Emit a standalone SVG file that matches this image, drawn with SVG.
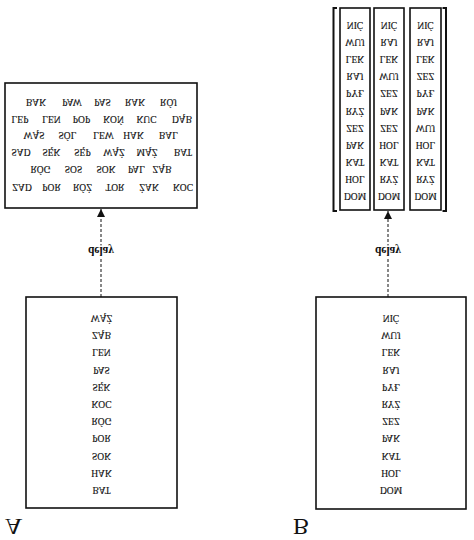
<svg xmlns="http://www.w3.org/2000/svg" width="474" height="540" viewBox="0 0 474 540">
<style>
.box{fill:#fff;stroke:#111;stroke-width:1.6}
.col{fill:none;stroke:#111;stroke-width:1.6}
.br{fill:none;stroke:#111;stroke-width:2}
.w{font-family:"Liberation Serif",serif;font-size:9.5px;fill:#111;stroke:#111;stroke-width:0.15;text-anchor:middle;dominant-baseline:central}
.lab{font-family:"Liberation Serif",serif;font-size:11.5px;font-weight:bold;fill:#111;text-anchor:middle;dominant-baseline:central;stroke:#fff;stroke-width:3;paint-order:stroke}
.big{font-family:"Liberation Serif",serif;font-size:24px;fill:#111}
.con{stroke:#111;stroke-width:1;stroke-dasharray:3,2;fill:none}
</style>
<defs>
<marker id="ah" viewBox="0 0 10 10" refX="10" refY="5" markerWidth="8" markerHeight="8" markerUnits="userSpaceOnUse" orient="auto">
<path d="M0,0 L10,5 L0,10 z" fill="#111"/>
</marker>
</defs>
<g transform="matrix(1 0 0 -1 0 540)">
<g id="connectors">
<line class="con" x1="101" y1="243" x2="101" y2="331" marker-end="url(#ah)"/>
<text class="lab" x="101" y="289">delay</text>
<line class="con" x1="388" y1="243" x2="388" y2="329" marker-end="url(#ah)"/>
<text class="lab" x="388" y="289">delay</text>
</g>
<g id="studyA">
<rect class="box" x="26" y="32" width="151" height="211"/>
<text class="w" x="101.5" y="50">BAT</text>
<text class="w" x="101.5" y="67.2">HAK</text>
<text class="w" x="101.5" y="84.4">SOK</text>
<text class="w" x="101.5" y="101.6">POR</text>
<text class="w" x="101.5" y="118.8">RÓG</text>
<text class="w" x="101.5" y="136">KOC</text>
<text class="w" x="101.5" y="153.2">SĘK</text>
<text class="w" x="101.5" y="170.4">PAS</text>
<text class="w" x="101.5" y="187.6">LEN</text>
<text class="w" x="101.5" y="204.8">ZĄB</text>
<text class="w" x="101.5" y="222">WĄŻ</text>
</g>
<g id="testA">
<rect class="box" x="5" y="332" width="192" height="125"/>
<text class="w" x="22" y="353">ZAD</text>
<text class="w" x="51.5" y="353">POR</text>
<text class="w" x="82.5" y="353">RÓŻ</text>
<text class="w" x="115" y="353">TOR</text>
<text class="w" x="149" y="353">ŻAK</text>
<text class="w" x="183" y="353">KOC</text>
<text class="w" x="40.5" y="371">RÓG</text>
<text class="w" x="73.5" y="371">SOS</text>
<text class="w" x="106" y="371">SOK</text>
<text class="w" x="136.5" y="371">PAL</text>
<text class="w" x="162" y="371">ZĄB</text>
<text class="w" x="21" y="388">SAD</text>
<text class="w" x="51.5" y="388">SĘK</text>
<text class="w" x="82.5" y="388">SĘP</text>
<text class="w" x="114" y="388">WĄŻ</text>
<text class="w" x="147" y="388">MĄŻ</text>
<text class="w" x="183" y="388">BAT</text>
<text class="w" x="34" y="405">WĄS</text>
<text class="w" x="67.5" y="405">SÓL</text>
<text class="w" x="103.5" y="405">LEW</text>
<text class="w" x="133.5" y="405">HAK</text>
<text class="w" x="168.5" y="405">BAL</text>
<text class="w" x="20" y="421">LEP</text>
<text class="w" x="51.5" y="421">LEN</text>
<text class="w" x="81.5" y="421">POP</text>
<text class="w" x="113.5" y="421">KOŃ</text>
<text class="w" x="146.5" y="421">KUC</text>
<text class="w" x="182" y="421">DĄB</text>
<text class="w" x="36" y="438">BAK</text>
<text class="w" x="72" y="438">PAW</text>
<text class="w" x="102.5" y="438">PAS</text>
<text class="w" x="135" y="438">RAK</text>
<text class="w" x="168.5" y="438">RÓJ</text>
</g>
<g id="studyB">
<rect class="box" x="316" y="31" width="150" height="212"/>
<text class="w" x="391" y="50">DOM</text>
<text class="w" x="391" y="67.2">HOL</text>
<text class="w" x="391" y="84.4">KAT</text>
<text class="w" x="391" y="101.6">PAK</text>
<text class="w" x="391" y="118.8">ZEZ</text>
<text class="w" x="391" y="136">RYŻ</text>
<text class="w" x="391" y="153.2">PYŁ</text>
<text class="w" x="391" y="170.4">RAJ</text>
<text class="w" x="391" y="187.6">LEK</text>
<text class="w" x="391" y="204.8">WUJ</text>
<text class="w" x="391" y="222">NIĆ</text>
</g>
<g id="testB">
<path class="br" d="M337,329 H333.5 V532 H337"/>
<path class="br" d="M442.5,329 H446 V532 H442.5"/>
<rect class="col" x="340" y="330" width="30" height="202"/>
<rect class="col" x="374" y="330" width="30" height="202"/>
<rect class="col" x="410" y="330" width="31" height="202"/>
<text class="w" x="355" y="344">DOM</text>
<text class="w" x="355" y="361.1">HOL</text>
<text class="w" x="355" y="378.2">KAT</text>
<text class="w" x="355" y="395.3">PAK</text>
<text class="w" x="355" y="412.4">ZEZ</text>
<text class="w" x="355" y="429.5">RYŻ</text>
<text class="w" x="355" y="446.6">PYŁ</text>
<text class="w" x="355" y="463.7">RAJ</text>
<text class="w" x="355" y="480.8">LEK</text>
<text class="w" x="355" y="497.9">WUJ</text>
<text class="w" x="355" y="515">NIĆ</text>
<text class="w" x="389" y="344">DOM</text>
<text class="w" x="389" y="361.1">RYŻ</text>
<text class="w" x="389" y="378.2">KAT</text>
<text class="w" x="389" y="395.3">HOL</text>
<text class="w" x="389" y="412.4">ZEZ</text>
<text class="w" x="389" y="429.5">PAK</text>
<text class="w" x="389" y="446.6">ZEZ</text>
<text class="w" x="389" y="463.7">WUJ</text>
<text class="w" x="389" y="480.8">LEK</text>
<text class="w" x="389" y="497.9">RAJ</text>
<text class="w" x="389" y="515">NIĆ</text>
<text class="w" x="425.5" y="344">DOM</text>
<text class="w" x="425.5" y="361.1">RYŻ</text>
<text class="w" x="425.5" y="378.2">KAT</text>
<text class="w" x="425.5" y="395.3">HOL</text>
<text class="w" x="425.5" y="412.4">WUJ</text>
<text class="w" x="425.5" y="429.5">PAK</text>
<text class="w" x="425.5" y="446.6">PYŁ</text>
<text class="w" x="425.5" y="463.7">ZEZ</text>
<text class="w" x="425.5" y="480.8">LEK</text>
<text class="w" x="425.5" y="497.9">RAJ</text>
<text class="w" x="425.5" y="515">NIĆ</text>
</g>
<g id="labels">
<text class="big" x="5" y="21">A</text>
<text class="big" x="293" y="21">B</text>
</g>
</g>
</svg>
